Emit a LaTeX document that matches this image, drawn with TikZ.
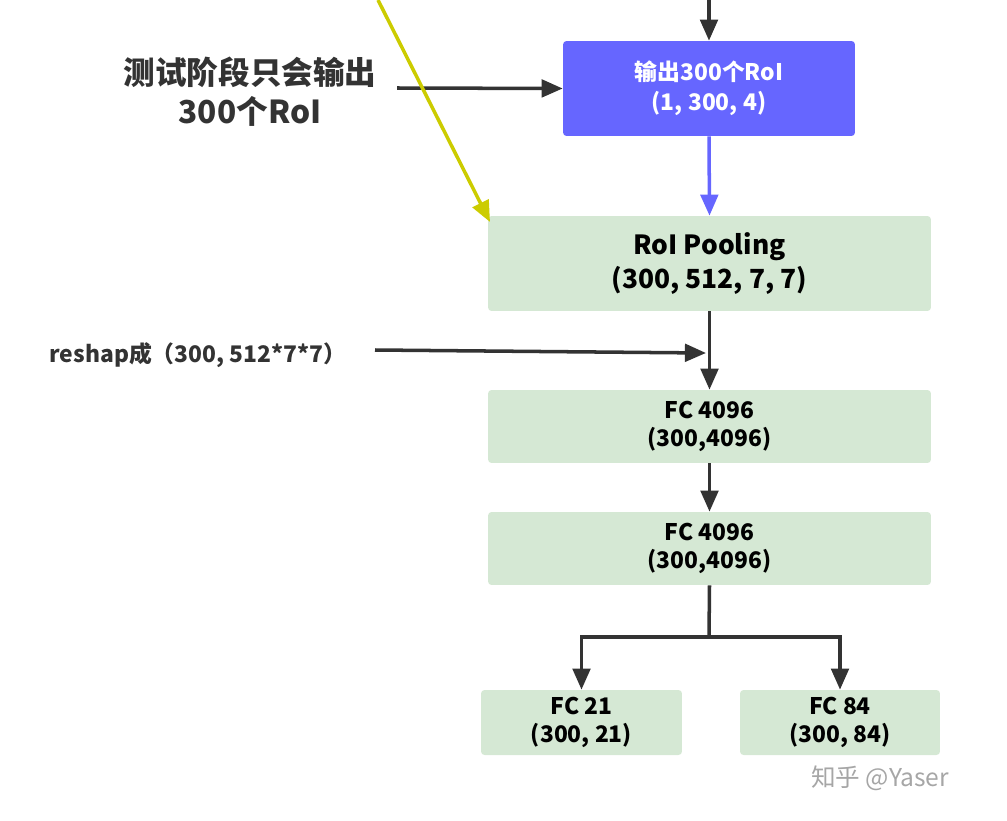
\documentclass[tikz,border=0pt]{standalone}
\usepackage{fontspec}
\setmainfont{Noto Sans CJK SC}
\usetikzlibrary{arrows.meta}
\definecolor{boxgreen}{HTML}{D5E8D4}
\definecolor{boxblue}{HTML}{6666FF}
\definecolor{linegray}{HTML}{333333}
\definecolor{lineyellow}{HTML}{CCCC00}
\begin{document}
\begin{tikzpicture}[x=0.02cm, y=-0.02cm]
  \tikzset{box/.style={rectangle, rounded corners=2pt, fill=boxgreen, align=center, font=\bfseries, inner sep=0pt},
           link/.style={draw=linegray, line width=2pt, -{Triangle[length=12pt,width=10pt]}}}
  \useasboundingbox (0,0) rectangle (1007,821);

  % boxes
  \node[box, fill=boxblue, text=white, minimum width=5.84cm, minimum height=1.9cm, font=\bfseries\fontsize{13}{17}\selectfont] (roi) at (709,88.5) {输出300个RoI\\(1, 300, 4)};
  \node[box, minimum width=8.86cm, minimum height=1.9cm, font=\bfseries\fontsize{15}{19}\selectfont] (pool) at (709.5,263.5) {RoI Pooling\\(300, 512, 7, 7)};
  \node[box, minimum width=8.86cm, minimum height=1.46cm, font=\bfseries\fontsize{13}{16}\selectfont] (fc1) at (709.5,426.5) {FC 4096\\(300,4096)};
  \node[box, minimum width=8.86cm, minimum height=1.46cm, font=\bfseries\fontsize{13}{16}\selectfont] (fc2) at (709.5,548.5) {FC 4096\\(300,4096)};
  \node[box, minimum width=4.02cm, minimum height=1.3cm, font=\bfseries\fontsize{13}{16}\selectfont] (cls) at (581.5,722.5) {FC 21\\(300, 21)};
  \node[box, minimum width=4.0cm, minimum height=1.3cm, font=\bfseries\fontsize{13}{16}\selectfont] (reg) at (840,722.5) {FC 84\\(300, 84)};

  % annotations
  \node[align=center, font=\bfseries\fontsize{18}{22}\selectfont, text=linegray] (test) at (250,92) {测试阶段只会输出\\300个RoI};
  \node[font=\bfseries\fontsize{13}{16}\selectfont, text=linegray] (reshape) at (198,355) {reshap成（300, 512*7*7）};
  \node[text=gray!70, font=\fontsize{14}{17}\selectfont] (mark) at (880,778) {知乎 @Yaser};

  \coordinate (top) at (709,0);
  \coordinate (ytop) at (378,0);
  \coordinate (yend) at (490,222);
  \coordinate (split) at (709,637);
  \coordinate (rs) at (706,353);

  % connectors
  \draw[link] (top) -- (roi.north);
  \draw[link] (397,88) -- (roi.west);
  \draw[draw=lineyellow, line width=2pt, -{Triangle[length=12pt,width=10pt]}] (ytop) -- (yend);
  \draw[link, draw=boxblue] (roi.south) -- (pool.north);
  \draw[link] (pool.south) -- (fc1.north);
  \draw[link] (375,350) -- (rs);
  \draw[link] (fc1.south) -- (fc2.north);
  \draw[linegray, line width=2pt] (fc2.south) -- (split);
  \draw[link] (split) -| (cls.north);
  \draw[link] (split) -| (reg.north);
\end{tikzpicture}
\end{document}
